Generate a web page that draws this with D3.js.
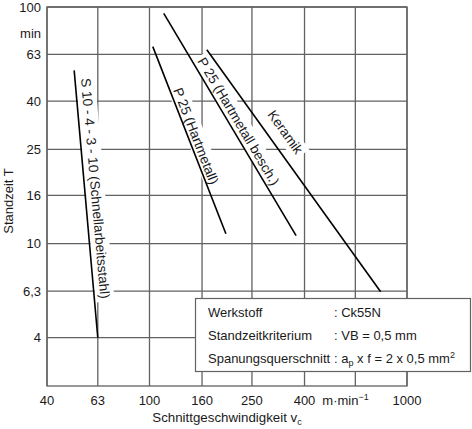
<!DOCTYPE html>
<html><head><meta charset="utf-8">
<script src="https://cdn.jsdelivr.net/npm/d3@7"></script>
<style>
body{margin:0;background:#fff}
svg{display:block}
text{font-family:"Liberation Sans",Arial,Helvetica,sans-serif;fill:#1a1a1a}
</style>
</head><body>
<svg id="c" width="472" height="429"></svg>
<script>
// ---- data ----
const xTicks = [40, 63, 100, 160, 250, 400, 630, 1000];
const xTickLabels = ["40", "63", "100", "160", "250", "400", "", "1000"];
const yTicks = [4, 6.3, 10, 16, 25, 40, 63, 100];
const yTickLabels = ["4", "6,3", "10", "16", "25", "40", "63", "100"];
const toolNames = ["S 10 - 4 - 3 - 10 (Schnellarbeitsstahl)", "P 25 (Hartmetall)", "P 25 (Hartmetall besch.)", "Keramik"];
const startV = [51, 103, 113.6, 167];
const startT = [54, 68, 94, 66];
const endV = [63, 198, 371, 790];
const endT = [4, 11, 10.8, 6.26];
const labelAt = [0.033, 0.237, 0.224, 0.2946];
const labelOffset = [6, 3, 4.3, 11];
const legendKeys = ["Werkstoff", "Standzeitkriterium", "Spanungsquerschnitt"];
const legendValues = [
  [{t: ": Ck55N"}],
  [{t: ": VB = 0,5 mm"}],
  [{t: ": a"}, {t: "p", sub: true}, {t: " x f = 2 x 0,5 mm"}, {t: "2", sup: true}]
];

// ---- layout ----
const svg = d3.select("#c");
const L = 47, R = 407, T = 7, B = 386;
const x = d3.scaleLog().domain([40, 1000]).range([L, R]);
const y = d3.scaleLog().domain([2.5, 100]).range([B, T]);
const gridCol = "#626262";

// grid
const grid = svg.append("g").attr("stroke", gridCol).attr("stroke-width", 1.3).attr("fill", "none");
grid.selectAll("line.v").data(xTicks).join("line")
  .attr("x1", d => x(d)).attr("x2", d => x(d)).attr("y1", T).attr("y2", B);
grid.selectAll("line.h").data(yTicks).join("line")
  .attr("y1", d => y(d)).attr("y2", d => y(d)).attr("x1", L).attr("x2", R);
grid.append("rect").attr("x", L).attr("y", T).attr("width", R - L).attr("height", B - T);

// line geometry
const lines = toolNames.map((name, i) => {
  const ax = x(startV[i]), ay = y(startT[i]), bx = x(endV[i]), by = y(endT[i]);
  const a = Math.atan2(by - ay, bx - ax);
  const ux = Math.sin(a), uy = -Math.cos(a);
  const px = ax + labelAt[i] * (bx - ax) + labelOffset[i] * ux;
  const py = ay + labelAt[i] * (by - ay) + labelOffset[i] * uy;
  return {name, a: a * 180 / Math.PI, px, py, pts: [[startV[i], startT[i]], [endV[i], endT[i]]]};
});

// label groups (background first)
const labG = svg.append("g");
const labs = labG.selectAll("g").data(lines).join("g")
  .attr("transform", d => `translate(${d.px},${d.py}) rotate(${d.a})`);
const bgs = labs.append("rect").attr("fill", "#fff");

// data lines
const lineGen = d3.line().x(d => x(d[0])).y(d => y(d[1]));
svg.append("g").selectAll("path").data(lines).join("path")
  .attr("d", d => lineGen(d.pts)).attr("stroke", "#000").attr("stroke-width", 1.6).attr("fill", "none");

// label text on top
const txtG = svg.append("g");
const txts = txtG.selectAll("g").data(lines).join("g")
  .attr("transform", d => `translate(${d.px},${d.py}) rotate(${d.a})`)
  .append("text").attr("font-size", 13.6).text(d => d.name);
txts.each(function(d, i) {
  const bb = this.getBBox();
  d3.select(bgs.nodes()[i]).attr("x", bb.x - 3).attr("y", bb.y - 2).attr("width", bb.width + 6).attr("height", bb.height + 4);
});

// axis tick labels
svg.append("g").selectAll("text").data(yTicks).join("text")
  .attr("x", 41).attr("y", d => y(d)).attr("dy", "0.36em").attr("text-anchor", "end").attr("font-size", 13)
  .text((d, i) => yTickLabels[i]);
svg.append("text").attr("x", 41).attr("y", (y(100) + y(63)) / 2 + 3).attr("dy", "0.36em")
  .attr("text-anchor", "end").attr("font-size", 13).text("min");

svg.append("g").selectAll("text").data(xTicks).join("text")
  .attr("x", d => x(d)).attr("y", 405).attr("text-anchor", "middle").attr("font-size", 13)
  .text((d, i) => xTickLabels[i]);
const unit = svg.append("text").attr("x", x(630) - 33).attr("y", 405).attr("font-size", 13);
unit.append("tspan").text("m·min");
unit.append("tspan").attr("dy", -5).attr("font-size", 9).text("−1");

// axis titles
const xt = svg.append("text").attr("x", (L + R) / 2).attr("y", 422).attr("text-anchor", "middle").attr("font-size", 13.3);
xt.append("tspan").text("Schnittgeschwindigkeit v");
xt.append("tspan").attr("dy", 3).attr("font-size", 9).text("c");
svg.append("text").attr("transform", "translate(13,201) rotate(-90)").attr("text-anchor", "middle")
  .attr("font-size", 13).text("Standzeit T");

// legend box
const lg = svg.append("g");
lg.append("rect").attr("x", 195.5).attr("y", 298.5).attr("width", 275).attr("height", 73)
  .attr("fill", "#fff").attr("stroke", gridCol).attr("stroke-width", 1.2);
legendKeys.forEach((k, i) => {
  const yy = 317 + i * 23;
  lg.append("text").attr("x", 208).attr("y", yy).attr("font-size", 13).text(k);
  const t = lg.append("text").attr("x", 334).attr("y", yy).attr("font-size", 13);
  let shift = 0;
  legendValues[i].forEach(s => {
    const sp = t.append("tspan").text(s.t);
    const target = s.sub ? 3 : s.sup ? -5 : 0;
    if (s.sub || s.sup) sp.attr("font-size", 9);
    sp.attr("dy", target - shift);
    shift = target;
  });
});
</script>
</body></html>
